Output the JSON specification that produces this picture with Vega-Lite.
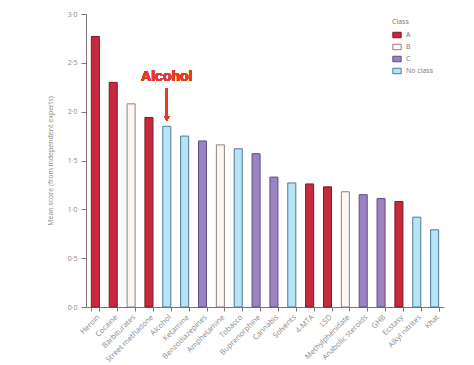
{
  "$schema": "https://vega.github.io/schema/vega-lite/v6.json",
  "width": 358,
  "height": 293,
  "autosize": "none",
  "padding": {"left": 86, "top": 14, "right": 30, "bottom": 58},
  "background": "white",
  "config": {"view": {"stroke": null}, "font": "Open Sans"},
  "data": {"values": [
    {"drug": "Heroin", "score": 2.77, "class": "A"},
    {"drug": "Cocaine", "score": 2.30, "class": "A"},
    {"drug": "Barbiturates", "score": 2.08, "class": "B"},
    {"drug": "Street methadone", "score": 1.94, "class": "A"},
    {"drug": "Alcohol", "score": 1.85, "class": "No class"},
    {"drug": "Ketamine", "score": 1.75, "class": "No class"},
    {"drug": "Benzodiazepines", "score": 1.70, "class": "C"},
    {"drug": "Amphetamine", "score": 1.66, "class": "B"},
    {"drug": "Tobacco", "score": 1.62, "class": "No class"},
    {"drug": "Buprenorphine", "score": 1.57, "class": "C"},
    {"drug": "Cannabis", "score": 1.33, "class": "C"},
    {"drug": "Solvents", "score": 1.27, "class": "No class"},
    {"drug": "4-MTA", "score": 1.26, "class": "A"},
    {"drug": "LSD", "score": 1.23, "class": "A"},
    {"drug": "Methylphenidate", "score": 1.18, "class": "B"},
    {"drug": "Anabolic steroids", "score": 1.15, "class": "C"},
    {"drug": "GHB", "score": 1.11, "class": "C"},
    {"drug": "Ecstasy", "score": 1.08, "class": "A"},
    {"drug": "Alkyl nitrites", "score": 0.92, "class": "No class"},
    {"drug": "Khat", "score": 0.79, "class": "No class"}
  ]},
  "layer": [
    {
      "mark": {"type": "bar", "strokeWidth": 1},
      "encoding": {
        "x": {
          "field": "drug", "type": "nominal", "sort": null,
          "scale": {"paddingInner": 0.55, "paddingOuter": 0.3},
          "axis": {
            "title": null, "labelAngle": -45, "labelFontSize": 7.5, "labelColor": "#8a8a8a",
            "domainColor": "#777", "tickColor": "#777", "tickSize": 4, "tickBand": "extent",
            "labelPadding": 2
          }
        },
        "y": {
          "field": "score", "type": "quantitative",
          "scale": {"domain": [0, 3], "nice": false},
          "axis": {
            "title": "Mean score (from independent experts)", "titleFontSize": 7, "titleFontWeight": "normal",
            "titleColor": "#8a8a8a", "titlePadding": 14,
            "values": [0, 0.5, 1, 1.5, 2, 2.5, 3],
            "labelExpr": "replace(format(datum.value, '.1f'), '.', '·')",
            "labelFontSize": 7, "labelColor": "#8a8a8a", "labelPadding": 4,
            "grid": false, "domainColor": "#777", "tickColor": "#777", "tickSize": 5
          }
        },
        "fill": {
          "field": "class", "type": "nominal", "title": "Class",
          "scale": {"domain": ["A", "B", "C", "No class"], "range": ["#c8283e", "#fdf6f1", "#9b82c3", "#b4e4f6"]},
          "legend": {
            "orient": "none", "legendX": 306, "legendY": 4,
            "titleFontSize": 7, "titleFontWeight": "normal", "titleColor": "#777",
            "labelFontSize": 7, "labelColor": "#777", "rowPadding": 2,
            "symbolType": "M-1,-0.65H1V0.65H-1Z", "symbolSize": 70, "symbolStrokeWidth": 1
          }
        },
        "stroke": {
          "field": "class", "type": "nominal", "title": "Class",
          "scale": {"domain": ["A", "B", "C", "No class"], "range": ["#7a1a26", "#8e8080", "#5f4f80", "#507b8c"]}
        }
      }
    },
    {
      "mark": {"type": "text", "fontSize": 14, "fontWeight": "bold", "font": "Liberation Sans", "fill": "#e23a2c", "strokeWidth": 0, "baseline": "middle"},
      "encoding": {
        "x": {"datum": "Alcohol", "type": "nominal"},
        "y": {"datum": 2.36, "type": "quantitative"},
        "text": {"value": "Alcohol"}
      }
    },
    {
      "mark": {"type": "rule", "color": "#e23a2c", "strokeWidth": 2},
      "encoding": {
        "x": {"datum": "Alcohol", "type": "nominal"},
        "y": {"datum": 2.24, "type": "quantitative"},
        "y2": {"datum": 1.95}
      }
    },
    {
      "mark": {"type": "point", "shape": "triangle-down", "filled": true, "color": "#e23a2c", "size": 30, "opacity": 1},
      "encoding": {
        "x": {"datum": "Alcohol", "type": "nominal"},
        "y": {"datum": 1.93, "type": "quantitative"}
      }
    }
  ]
}
